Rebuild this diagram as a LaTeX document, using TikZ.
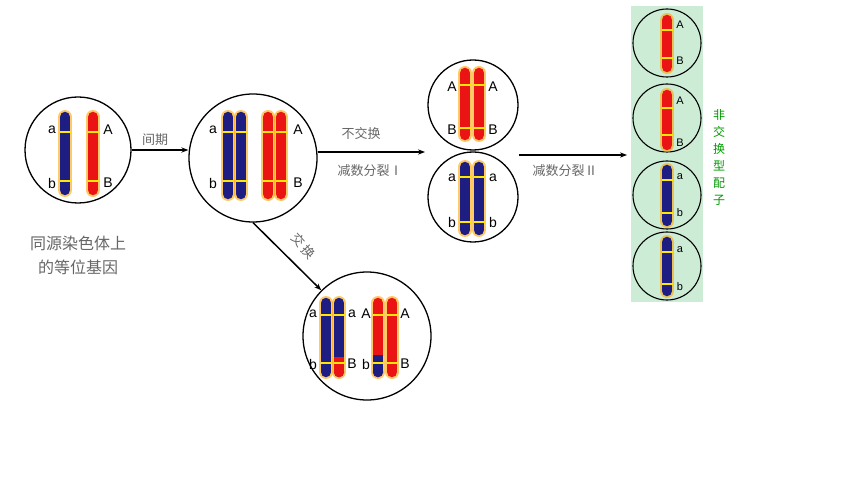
\documentclass[tikz,border=0pt]{standalone}
\usepackage{fontspec}
\setmainfont{Liberation Sans}
\newfontfamily\cjk{Noto Sans CJK SC}
\usetikzlibrary{arrows.meta}
\newcommand\chrm[4]{%
  \draw[line width=14pt,line cap=round,color=orange!70!yellow,opacity=.6] (#1,#2+5) -- (#1,#3-5);
  \draw[line width=10.5pt,line cap=round,color=#4] (#1,#2+5) -- (#1,#3-5);}
\newcommand\band[3]{\draw[yellow!90!orange,line width=2pt] (#1-5.5,#2) -- (#1+5.5,#2);}
\definecolor{cblue}{RGB}{30,30,130}
\definecolor{cred}{RGB}{235,20,20}
\definecolor{gbox}{RGB}{204,236,214}
\begin{document}
\begin{tikzpicture}[x=1pt,y=-1pt,
  cell/.style={circle,draw,line width=1.3pt,inner sep=0pt},
  lab/.style={font=\fontsize{14}{14}\selectfont},
  cn/.style={font=\cjk\fontsize{13}{13}\selectfont,text=gray!80!black},
  arr/.style={-{Stealth[length=7pt]},line width=1.5pt}]
\useasboundingbox (0,0) rectangle (864,486);
\fill[gbox] (631,6) rectangle (703,302);
% circles
\node[cell,minimum size=106pt] (c1) at (78,150) {};
\node[cell,minimum size=128pt] (c2) at (253,158) {};
\node[cell,minimum size=90pt] (c3) at (473,105) {};
\node[cell,minimum size=90pt] (c4) at (473,197) {};
\node[cell,minimum size=128pt] (c5) at (367,336) {};
\foreach \n/\y in {g1/43,g2/118,g3/195,g4/266}
  \node[cell,minimum size=68pt,line width=1.1pt] (\n) at (667,\y) {};
% c1
\chrm{65}{112}{195}{cblue}\chrm{93}{112}{195}{cred}
\foreach \x in {65,93}{\band{\x}{132}{}\band{\x}{181}{}}
\node[lab] (l1) at (52,130) {a}; \node[lab] (l2) at (52,183) {b};
\node[lab] (l3) at (108,130) {A}; \node[lab] (l4) at (108,183) {B};
% c2
\chrm{228}{112}{199}{cblue}\chrm{241}{112}{199}{cblue}
\chrm{268}{112}{199}{cred}\chrm{281}{112}{199}{cred}
\foreach \x in {228,241,268,281}{\band{\x}{132}{}\band{\x}{181}{}}
\node[lab] (l5) at (213,130) {a}; \node[lab] (l6) at (213,183) {b};
\node[lab] (l7) at (298,130) {A}; \node[lab] (l8) at (298,183) {B};
% c3
\chrm{465}{68}{140}{cred}\chrm{479}{68}{140}{cred}
\foreach \x in {465,479}{\band{\x}{85}{}\band{\x}{128}{}}
\node[lab] (l9) at (452,87) {A}; \node[lab] (l10) at (452,130) {B};
\node[lab] (l11) at (493,87) {A}; \node[lab] (l12) at (493,130) {B};
% c4
\chrm{465}{162}{235}{cblue}\chrm{479}{162}{235}{cblue}
\foreach \x in {465,479}{\band{\x}{177}{}\band{\x}{222}{}}
\node[lab] (l13) at (452,178) {a}; \node[lab] (l14) at (452,222) {b};
\node[lab] (l15) at (493,178) {a}; \node[lab] (l16) at (493,222) {b};
% c5
\chrm{326}{298}{377}{cblue}\chrm{339}{298}{377}{cblue}
\chrm{378}{298}{377}{cred}\chrm{392}{298}{377}{cred}
\draw[line width=10.5pt,cred] (339,357) -- (339,372);
\fill[cred] (339,372) circle (5.25pt);
\draw[line width=10.5pt,cblue] (378,355) -- (378,372);
\fill[cblue] (378,372) circle (5.25pt);
\foreach \x in {326,339,378,392}{\band{\x}{315}{}\band{\x}{363}{}}
\node[lab] (m1) at (313,314) {a}; \node[lab] (m2) at (313,364) {b};
\node[lab] (m3) at (352,314) {a}; \node[lab] (m4) at (352,364) {B};
\node[lab] (m5) at (366,314) {A}; \node[lab] (m6) at (366,364) {b};
\node[lab] (m7) at (405,314) {A}; \node[lab] (m8) at (405,364) {B};
% gametes
\chrm{667}{15}{72}{cred}\band{667}{30}{}\band{667}{58}{}
\chrm{667}{90}{150}{cred}\band{667}{108}{}\band{667}{135}{}
\chrm{667}{165}{226}{cblue}\band{667}{180}{}\band{667}{213}{}
\chrm{667}{237}{296}{cblue}\band{667}{252}{}\band{667}{284}{}
\foreach \n/\y/\t in {n1/25/A,n2/61/B,n3/101/A,n4/143/B,n5/177/a,n6/213/b,n7/250/a,n8/287/b}
  \node[font=\fontsize{11}{11}\selectfont] (\n) at (680,\y) {\t};
% arrows
\draw[arr] (c1.east) -- (c2.west|-c1.east);
\node[cn] (t1) at (155,140) {间期};
\coordinate (p3) at (425,152);
\draw[arr] (c2.east|-p3) -- (p3);
\node[cn] (t2) at (361,134) {不交换};
\node[cn] (t3) at (370,171) {减数分裂Ⅰ};
\coordinate (p4) at (627,155);
\draw[arr] (c3.east|-p4) -- (p4);
\node[cn] (t4) at (565,171) {减数分裂Ⅱ};
\draw[arr] (c2.south) -- (c5.135);
\node[cn,rotate=-48,inner sep=0pt] (t5a) at (299,240) {交};
\node[cn,rotate=-48,inner sep=0pt] (t5b) at (309,252) {换};
\node[cn,text=green!60!black,align=center,font=\cjk\fontsize{12}{17}\selectfont] (t6) at (719,157) {非\\交\\换\\型\\配\\子};
\node[cn,align=center,font=\cjk\fontsize{16}{24}\selectfont] (t7) at (78,255) {同源染色体上\\的等位基因};
\end{tikzpicture}
\end{document}
